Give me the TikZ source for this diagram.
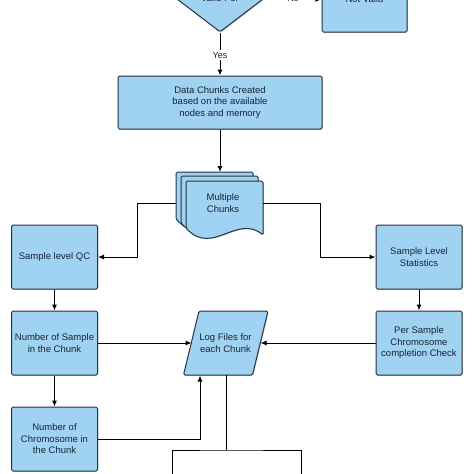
\documentclass[tikz,border=0pt]{standalone}
\usepackage{fontspec}
\setmainfont{Liberation Sans}
\usetikzlibrary{shapes.geometric,arrows.meta,shadows,calc}
\definecolor{boxfill}{RGB}{160,210,242}
\definecolor{boxline}{RGB}{38,50,62}
\definecolor{txt}{RGB}{24,36,52}
\begin{document}
\begin{tikzpicture}[x=1pt,y=-1pt,
  box/.style={draw=boxline, fill=boxfill, line width=1pt, rounded corners=1.5pt,
    align=center, font=\fontsize{9.5}{11.5}\selectfont, text=txt, inner sep=0pt,
    drop shadow={shadow xshift=0.9pt, shadow yshift=-0.9pt, opacity=0.35}},
  plain/.style={align=center, font=\fontsize{9.5}{11.5}\selectfont, text=txt, inner sep=0pt},
  conn/.style={draw=black, line width=1pt},
  arr/.style={conn, -{Latex[length=6pt,width=5pt]}},
  lbl/.style={fill=white, font=\fontsize{9}{11}\selectfont, text=txt, inner sep=1.5pt}]
\useasboundingbox (0,0) rectangle (474,474);
\clip (0,0) rectangle (474,474);
\fill[white] (0,0) rectangle (474,474);

% top decision
\node[box, shape=diamond, minimum width=89pt, minimum height=68pt] (valid) at (220,-2) {Valid Per};
\node[box, minimum width=85pt, minimum height=65pt] (notvalid) at (364.5,-0.5) {Not Valid};
\node[box, minimum width=204pt, minimum height=53pt] (data) at (220,102.5) {Data Chunks Created\\based on the available\\nodes and memory};

% multiple document
\def\pagepath{(186,181) -- (263,181) -- (263,235) .. controls (237,214) and (212,256) .. (186,228) -- cycle}
\begin{scope}[shift={(-10,-9)}]
  \path[box] \pagepath;
\end{scope}
\begin{scope}[shift={(-5,-5)}]
  \path[box] \pagepath;
\end{scope}
\path[box] \pagepath;
\node[plain] (multi) at (223,203) {Multiple\\Chunks};
\coordinate (docT) at (220,172);
\coordinate (docL) at (176,203);
\coordinate (docR) at (263,203);

% side boxes
\node[box, minimum width=86pt, minimum height=64pt] (qc) at (54.5,257) {Sample level QC};
\node[box, minimum width=86pt, minimum height=64pt] (stats) at (419,257) {Sample Level\\Statistics};
\node[box, minimum width=86pt, minimum height=64pt] (numsample) at (54.5,343) {Number of Sample\\in the Chunk};
\node[box, minimum width=86pt, minimum height=64pt] (persample) at (419,343) {Per Sample\\Chromosome\\completion Check};
\node[box, minimum width=86pt, minimum height=64pt] (chrom) at (54.5,439) {Number of\\Chromosome in\\the Chunk};

% log files parallelogram
\path[box] (199,311) -- (268,311) -- (252.5,375) -- (183.5,375) -- cycle;
\node[plain] (log) at (225.5,343) {Log Files for\\each Chunk};
\coordinate (logW) at (191.5,343);
\coordinate (logE) at (260.5,343);
\coordinate (logIn) at (200,375.5);
\coordinate (logOut) at (226,375);

% connectors
\draw[arr] (valid.south) -- node[lbl, yshift=-1pt]{Yes} (data.north);
\draw[arr] (valid.east) -- node[lbl]{No} (notvalid.west);
\draw[arr] (data.south) -- (docT);
\draw[arr] (docL) -- ++(-39,0) |- (qc.east);
\draw[arr] (docR) -- ++(57,0) |- (stats.west);
\draw[arr] (qc.south) -- (numsample.north);
\draw[arr] (stats.south) -- (persample.north);
\draw[arr] (numsample.south) -- (chrom.north);
\draw[arr] (numsample.east) -- (logW);
\draw[arr] (persample.west) -- (logE);
\draw[arr] (chrom.east) -| (logIn);

\coordinate (split) at (226,450);
\coordinate (outL) at (172,480);
\coordinate (outR) at (301,480);
\draw[conn] (logOut) -- (split);
\draw[conn] (outL) |- (split) -| (outR);
\end{tikzpicture}
\end{document}
